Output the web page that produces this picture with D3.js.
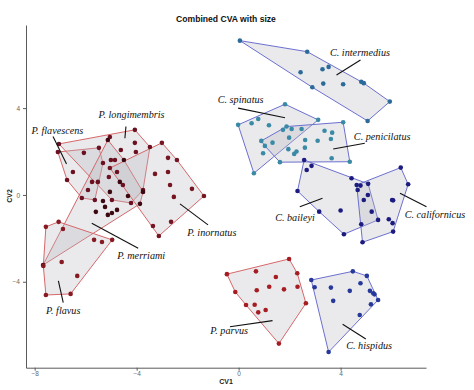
<!DOCTYPE html>
<html><head><meta charset="utf-8">
<script src="https://cdn.jsdelivr.net/npm/d3@7"></script>
<style>
html,body{margin:0;padding:0;background:#fff;}
svg{display:block;}
</style>
</head><body>
<svg id="chart" width="474" height="390"></svg>
<script>
// ---- Data (CV1, CV2 scores per species) ----
const pFlavescens = [[-7.09,1.98],[-5.48,2.17],[-5.32,1.47],[-5.64,-0.23],[-6.15,-0.14],[-6.73,0.69],[-6.07,1.94],[-6.50,1.06],[-5.75,0.60],[-5.52,0.60],[-5.91,0.23]];
const pLongimembris = [[-7.05,2.35],[-5.05,2.67],[-4.07,3.00],[-3.48,2.21],[-3.75,0.23],[-4.22,-0.37],[-4.97,-0.23],[-4.62,2.07],[-4.07,2.40],[-4.03,1.98],[-5.01,1.61],[-4.85,1.61],[-4.77,1.06],[-5.09,0.83],[-4.54,0.46]];
const pMerriami = [[-7.67,-3.23],[-5.13,2.53],[-4.50,1.61],[-3.75,0.14],[-3.87,-0.41],[-5.24,-0.55],[-5.13,-0.92],[-4.97,-0.83],[-4.77,-0.69],[-5.32,-0.28],[-4.34,-0.05],[-5.60,-0.78],[-5.05,0.14],[-4.66,0.60]];
const pInornatus = [[-5.05,1.24],[-3.01,2.40],[-2.77,1.71],[-2.42,1.61],[-1.36,-0.05],[-3.13,-1.89],[-3.28,0.97],[-2.69,0.46],[-2.54,-0.09],[-1.83,0.28],[-2.65,-1.24],[-3.36,-1.43],[-2.77,1.06]];
const pFlavus = [[-7.56,-1.47],[-7.06,-1.24],[-6.89,-1.57],[-7.66,-3.27],[-7.56,-4.61],[-6.59,-4.56],[-4.96,-2.07],[-5.67,-2.07],[-5.36,-2.17],[-6.94,-3.09],[-6.33,-3.73]];
const pParvus = [[-0.46,-3.65],[1.98,-2.95],[2.30,-3.61],[2.64,-4.99],[1.58,-6.85],[-0.13,-4.47],[0.68,-3.52],[1.46,-3.78],[0.71,-4.39],[1.20,-4.23],[1.78,-4.35],[2.31,-4.23],[0.29,-5.07],[0.63,-5.06],[0.77,-5.41],[1.06,-5.30]];
const cHispidus = [[2.85,-3.92],[4.48,-3.52],[5.03,-3.73],[5.47,-4.84],[5.19,-5.04],[3.53,-7.24],[2.98,-4.25],[3.62,-4.27],[4.36,-4.42],[4.78,-4.07],[5.15,-4.42],[5.28,-4.53],[5.33,-4.58],[3.71,-4.88],[4.75,-5.53]];
const cIntermedius = [[0.05,7.11],[2.69,6.60],[5.93,4.30],[5.06,3.41],[2.89,4.96],[2.43,5.65],[3.29,5.79],[3.53,5.90],[3.32,5.13],[4.10,5.10],[4.81,5.21],[4.91,5.15]];
const cSpinatus = [[-0.02,3.23],[1.82,4.18],[3.12,3.46],[0.60,1.00],[0.51,3.30],[0.77,3.50],[1.19,3.21],[0.96,1.92],[1.33,2.41],[1.74,3.00]];
const cPenicilatus = [[1.88,3.15],[4.10,3.35],[4.36,1.53],[1.62,1.51],[0.89,2.49],[2.08,3.04],[2.47,3.04],[1.98,2.64],[2.61,2.53],[3.10,2.50],[3.37,2.96],[3.67,2.87],[3.62,2.58],[2.60,2.18],[1.95,2.11],[2.27,2.00],[2.18,1.89],[3.65,1.69],[1.03,2.26]];
const cBaileyi = [[2.57,1.61],[4.43,0.77],[5.08,0.51],[5.47,-1.15],[4.13,-1.81],[3.16,-0.77],[2.31,0.18],[2.67,1.15],[2.86,1.34],[4.00,-0.72],[4.91,-0.23],[5.22,-0.77],[4.67,0.23]];
const cCalifornicus = [[4.63,0.46],[4.78,0.43],[6.36,1.26],[6.65,0.49],[6.06,-1.69],[4.86,-2.18],[4.81,-1.35],[6.02,-0.23],[6.06,-0.25],[5.89,-1.12],[6.04,-1.30],[5.07,0.00]];

const speciesNames = ["P. flavescens","P. longimembris","P. merriami","P. inornatus","P. flavus","P. parvus","C. hispidus","C. intermedius","C. spinatus","C. penicilatus","C. baileyi","C. californicus"];
const speciesData = [pFlavescens,pLongimembris,pMerriami,pInornatus,pFlavus,pParvus,cHispidus,cIntermedius,cSpinatus,cPenicilatus,cBaileyi,cCalifornicus];
const speciesGenus = ["P","P","P","P","P","P","C","C","C","C","C","C"];
const pointColors = ["#6b1020","#6b1020","#3d0810","#761522","#861a22","#a51d23","#26389a","#2c6a9a","#3a8aa6","#3a8aa6","#1c1c80","#1c1c80"];

// label text position [x,y] and pointer segment [x1,y1,x2,y2] in CV units
const labelText = [[-7.11,2.79],[-4.20,3.53],[-3.82,-2.93],[-1.05,-1.87],[-6.88,-5.48],[-0.37,-6.43],[5.12,-7.10],[4.76,6.41],[0.08,4.22],[5.63,2.53],[2.21,-1.18],[7.70,-1.08]];
const labelLine = [[-7.28,2.69,-6.75,1.43],[-4.42,3.15,-4.46,2.61],[-5.76,-1.30,-3.94,-2.46],[-2.30,-0.41,-1.20,-1.38],[-7.07,-3.96,-6.88,-4.96],[-0.34,-6.07,1.33,-5.79],[4.08,-5.96,4.99,-6.64],[4.78,6.22,3.84,5.53],[-0.02,4.00,1.82,3.56],[4.95,2.38,3.71,2.12],[2.40,-0.54,3.29,-0.15],[6.33,0.08,7.37,-0.54]];

const xTicks = [-8,-4,0,4];
const yTicks = [-4,0,4];
const titleText = "Combined CVA with size";
const xLabel = "CV1", yLabel = "CV2";

// ---- Drawing ----
const svg = d3.select("#chart");
const x = d3.scaleLinear().domain([-8.34, 7.35]).range([26, 426]);
const y = d3.scaleLinear().domain([-7.96, 7.83]).range([367.7, 25]);

const outline = {P:"#d5686b", C:"#6c70cf"};

// hulls
const hullG = svg.append("g");
speciesData.forEach((pts,i)=>{
  const hull = d3.polygonHull(pts.map(p=>[x(p[0]),y(p[1])]));
  hullG.append("path")
    .attr("d","M"+hull.join("L")+"Z")
    .attr("fill","#b9b9bf").attr("fill-opacity",0.3)
    .attr("stroke",outline[speciesGenus[i]]).attr("stroke-width",1)
    .attr("stroke-linejoin","round");
});

// points
const ptG = svg.append("g");
speciesData.forEach((pts,i)=>{
  ptG.selectAll(null).data(pts).enter().append("circle")
    .attr("cx",d=>x(d[0])).attr("cy",d=>y(d[1])).attr("r",2.3)
    .attr("fill",pointColors[i]);
});

// axes
const axG = svg.append("g");
const xAxis = axG.append("g").attr("transform","translate(0,367.7)")
  .call(d3.axisBottom(x).tickValues(xTicks).tickSize(3).tickSizeOuter(0).tickFormat(d3.format("d")));
const yAxis = axG.append("g").attr("transform","translate(26,0)")
  .call(d3.axisLeft(y).tickValues(yTicks).tickSize(3).tickSizeOuter(0).tickFormat(d3.format("d")));
[xAxis,yAxis].forEach(a=>{
  a.select(".domain").attr("stroke","#5a5a5a").attr("stroke-width",1);
  a.selectAll(".tick line").attr("stroke","#5a5a5a");
  a.selectAll(".tick text").attr("fill","#666").attr("font-size","6.5px")
   .attr("font-family","Liberation Sans, Arial, sans-serif");
});
xAxis.selectAll(".tick text").attr("y",4).attr("dy","0.71em");
svg.append("text").attr("x",226).attr("y",383.5).attr("text-anchor","middle")
  .attr("font-family","Liberation Sans, Arial, sans-serif").attr("font-weight","bold")
  .attr("font-size","7px").attr("fill","#222").text(xLabel);
svg.append("text").attr("transform","translate(12,196) rotate(-90)").attr("text-anchor","middle")
  .attr("font-family","Liberation Sans, Arial, sans-serif").attr("font-weight","bold")
  .attr("font-size","7px").attr("fill","#222").text(yLabel);
svg.append("text").attr("x",226).attr("y",21.5).attr("text-anchor","middle")
  .attr("font-family","Liberation Sans, Arial, sans-serif").attr("font-weight","bold")
  .attr("font-size","8.6px").attr("fill","#111").text(titleText);

// labels
const labG = svg.append("g");
speciesNames.forEach((name,i)=>{
  const l = labelLine[i];
  labG.append("line").attr("x1",x(l[0])).attr("y1",y(l[1])).attr("x2",x(l[2])).attr("y2",y(l[3]))
    .attr("stroke","#111").attr("stroke-width",1.1);
  labG.append("text").attr("x",x(labelText[i][0])).attr("y",y(labelText[i][1]))
    .attr("text-anchor","middle").attr("font-family","Liberation Serif, Times New Roman, serif")
    .attr("font-style","italic").attr("font-size","10.2px").attr("fill","#111").text(name);
});
</script>
</body></html>
